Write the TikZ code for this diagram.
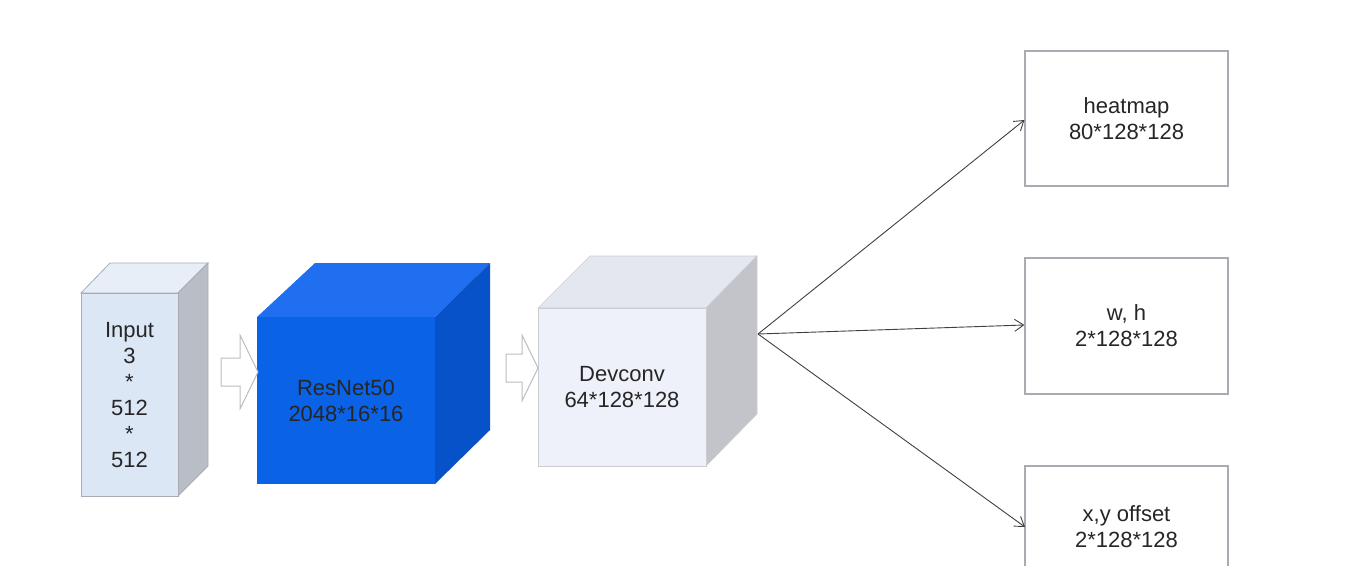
\documentclass[tikz,border=0pt]{standalone}
\usepackage{fontspec}
\setmainfont{Liberation Sans}
\usetikzlibrary{arrows.meta}
\definecolor{inF}{HTML}{DCE7F6}\definecolor{inT}{HTML}{E8EEF8}\definecolor{inS}{HTML}{B9BDC5}
\definecolor{rF}{HTML}{0A62E6}\definecolor{rT}{HTML}{1F6FF0}\definecolor{rS}{HTML}{0752C8}
\definecolor{dF}{HTML}{EEF1FA}\definecolor{dT}{HTML}{E4E7EF}\definecolor{dS}{HTML}{C2C4C9}
\definecolor{edge}{HTML}{A8ACB2}
\tikzset{
  txt/.style={font=\fontsize{22}{26}\selectfont, text=black!85, align=center},
  outbox/.style={draw=edge, line width=1.2pt, fill=white},
  conn/.style={draw=black!75, line width=0.9pt, -{Straight Barb[length=9pt,width=12pt]}},
  hollow/.style={draw=edge!80, line width=1pt, fill=white}
}
\newcommand{\mycube}[8]{% x1 y1 x2 y2 dx dy front top side
  \fill[#8] (#1,#2)--(#3,#2)--(#3+#5,#2-#6)--(#1+#5,#2-#6)--cycle;
  \fill[#7!0] (0,0);
}
\begin{document}
\begin{tikzpicture}[x=1pt,y=-1pt]
\useasboundingbox (0,0) rectangle (1356,565);
% Input cube
\fill[inT,draw=edge,line width=0.8pt] (81,293)--(110,263)--(208,263)--(178,293)--cycle;
\fill[inS,draw=edge,line width=0.8pt] (178,293)--(208,263)--(208,466)--(178,496)--cycle;
\fill[inF,draw=edge,line width=0.8pt] (81,293) rectangle (178,496);
\node[txt] (in) at (129.5,395) {Input\\3\\*\\512\\*\\512};
% ResNet cube
\fill[rT] (257,317)--(315,263)--(490,263)--(435,317)--cycle;
\fill[rS] (435,317)--(490,263)--(490,430)--(435,484)--cycle;
\fill[rF] (257,317) rectangle (435,484);
\node[txt] (res) at (346,401) {ResNet50\\2048*16*16};
% Devconv cube
\fill[dT,draw=edge!60,line width=0.6pt] (538,308)--(590,256)--(757,256)--(706,308)--cycle;
\fill[dS,draw=edge!60,line width=0.6pt] (706,308)--(757,256)--(757,414)--(706,466)--cycle;
\fill[dF,draw=edge!60,line width=0.6pt] (538,308) rectangle (706,466);
\node[txt] (dev) at (622,387) {Devconv\\64*128*128};
% hollow arrows
\draw[hollow] (221,358)--(240,358)--(240,335)--(258,372)--(240,409)--(240,386)--(221,386)--cycle;
\draw[hollow] (506,354)--(522,354)--(522,335)--(538,368)--(522,401)--(522,382)--(506,382)--cycle;
% output boxes
\node[outbox, minimum width=203pt, minimum height=135pt] (hm) at (1126.5,118.5) {};
\node[txt] at (hm.center) {heatmap\\80*128*128};
\node[outbox, minimum width=203pt, minimum height=136pt] (wh) at (1126.5,326) {};
\node[txt] at (wh.center) {w, h\\2*128*128};
\draw[edge, line width=1.2pt, fill=white] (1025,575)--(1025,466)--(1228,466)--(1228,575);
\coordinate (xyw) at (1025,527);
\node[txt] (xy) at (1126.5,527) {x,y offset\\2*128*128};
\coordinate (src) at (758,334);
\draw[conn] (src) -- (hm.west |- 0,120);
\draw[conn] (src) -- (wh.west |- 0,325);
\draw[conn] (src) -- (xyw);
\end{tikzpicture}
\end{document}
